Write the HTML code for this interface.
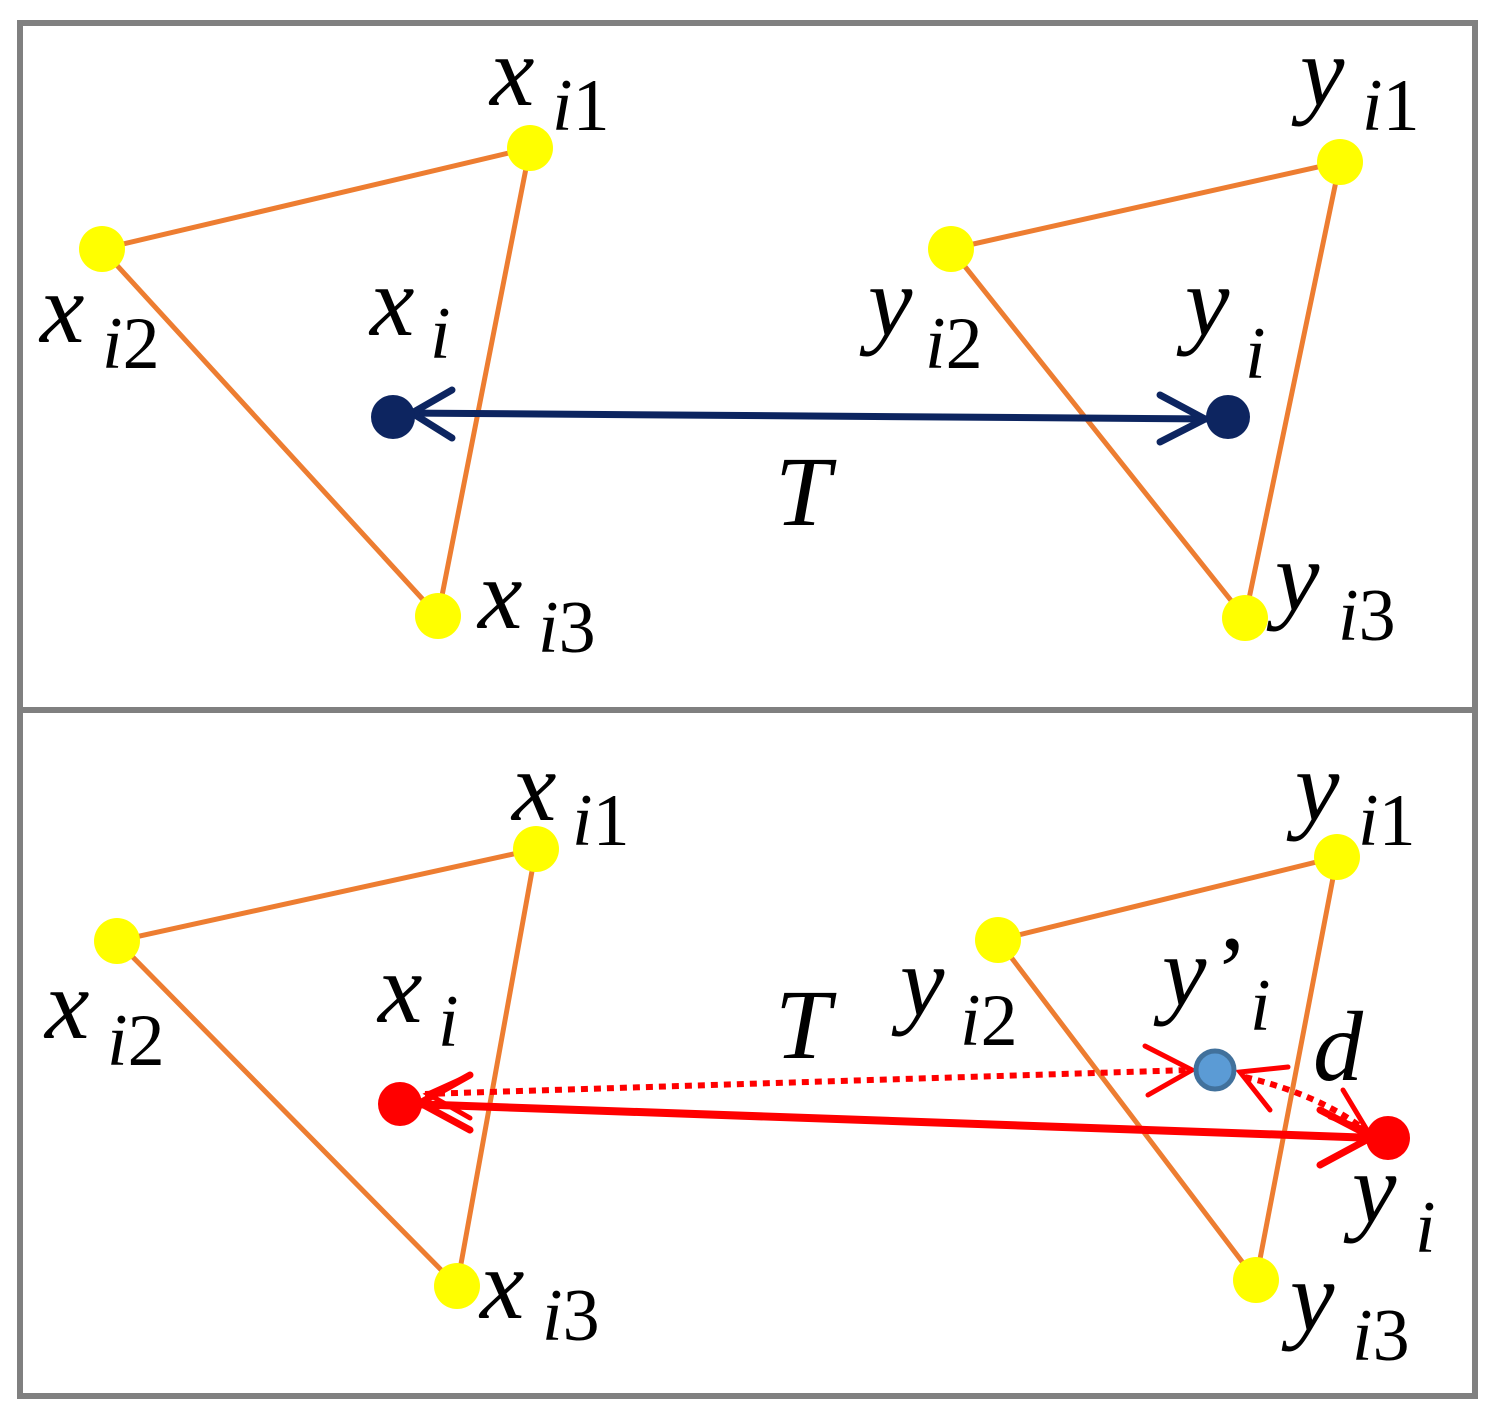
<!DOCTYPE html>
<html><head><style>html,body{margin:0;padding:0;background:#fff}svg{display:block}
text{font-family:"Liberation Serif",serif;font-style:italic;fill:#000}
.b{font-size:100px}.s{font-size:74px}.n{font-style:normal}</style></head><body>
<svg width="1491" height="1416" viewBox="0 0 1491 1416" xmlns="http://www.w3.org/2000/svg">
<rect x="20" y="23" width="1455" height="1373" fill="none" stroke="#808080" stroke-width="6"/>
<line x1="20" y1="710" x2="1475" y2="710" stroke="#808080" stroke-width="6"/>
<g stroke="#ed7d31" stroke-width="5" fill="none">
<polyline points="102,249 530,148 438,616 102,249"/>
<polyline points="951,249 1340,162 1245,618 951,249"/>
<polyline points="117,941 536,849 457,1286 117,941"/>
<polyline points="998,940 1337,857 1256,1280 998,940"/>
</g>
<g fill="#ffff00">
<circle cx="530" cy="148" r="23"/><circle cx="102" cy="249" r="23"/><circle cx="438" cy="616" r="23"/>
<circle cx="1340" cy="162" r="23"/><circle cx="951" cy="249" r="23"/><circle cx="1245" cy="618" r="23"/>
<circle cx="536" cy="849" r="23"/><circle cx="117" cy="941" r="23"/><circle cx="457" cy="1286" r="23"/>
<circle cx="1337" cy="857" r="23"/><circle cx="998" cy="940" r="23"/><circle cx="1256" cy="1280" r="23"/>
</g>
<g stroke="#0d2560" stroke-width="7" fill="none" stroke-linecap="round">
<line x1="400" y1="413" x2="1215" y2="419"/>
<polyline points="452,390 412,413 452,438"/>
<polyline points="1160,395 1205,419 1160,442"/>
</g>
<circle cx="393" cy="417" r="22" fill="#0d2560"/>
<circle cx="1228" cy="417" r="22" fill="#0d2560"/>
<g stroke="#ff0000" fill="none" stroke-linecap="round">
<line x1="410" y1="1104" x2="1375" y2="1138" stroke-width="8"/>
<polyline points="470,1075 420,1103 470,1130" stroke-width="7"/>
<polyline points="1320,1110 1372,1137 1320,1165" stroke-width="7"/>
<line x1="425" y1="1094" x2="1190" y2="1070" stroke-width="6" stroke-dasharray="7,6" stroke-linecap="butt"/>
<polyline points="470,1075 428,1094 470,1118" stroke-width="5"/>
<polyline points="1145,1046 1192,1070 1148,1095" stroke-width="5"/>
<path d="M1245,1077 Q1320,1095 1365,1130" stroke-width="6" stroke-dasharray="7,6" stroke-linecap="butt"/>
<polyline points="1288,1067 1240,1072 1270,1110" stroke-width="5"/>
<polyline points="1343,1090 1367,1130 1330,1117" stroke-width="5"/>
</g>
<circle cx="400" cy="1104" r="22" fill="#ff0000"/>
<circle cx="1388" cy="1138" r="22" fill="#ff0000"/>
<circle cx="1215" cy="1070" r="19" fill="#5b9bd5" stroke="#41719c" stroke-width="5"/>
<!-- top labels -->
<text class="b" x="490" y="105">x</text><text class="s" x="552" y="130">i<tspan class="n">1</tspan></text>
<text class="b" x="40" y="342">x</text><text class="s" x="102" y="368">i<tspan class="n">2</tspan></text>
<text class="b" x="370" y="335">x</text><text class="s" x="430" y="358">i</text>
<text class="b" x="478" y="628">x</text><text class="s" x="538" y="652">i<tspan class="n">3</tspan></text>
<text class="b" x="868" y="335">y</text><text class="s" x="925" y="368">i<tspan class="n">2</tspan></text>
<text class="b" x="1185" y="335">y</text><text class="s" x="1245" y="378">i</text>
<text class="b" x="1300" y="105">y</text><text class="s" x="1362" y="130">i<tspan class="n">1</tspan></text>
<text class="b" x="1275" y="610">y</text><text class="s" x="1338" y="640">i<tspan class="n">3</tspan></text>
<text class="b" x="775" y="525">T</text>
<!-- bottom labels -->
<text class="b" x="512" y="820">x</text><text class="s" x="572" y="845">i<tspan class="n">1</tspan></text>
<text class="b" x="45" y="1038">x</text><text class="s" x="107" y="1065">i<tspan class="n">2</tspan></text>
<text class="b" x="378" y="1022">x</text><text class="s" x="438" y="1046">i</text>
<text class="b" x="480" y="1318">x</text><text class="s" x="542" y="1340">i<tspan class="n">3</tspan></text>
<text class="b" x="775" y="1058">T</text>
<text class="b" x="900" y="1015">y</text><text class="s" x="960" y="1045">i<tspan class="n">2</tspan></text>
<text class="b" x="1162" y="1005">y</text><text class="b n" x="1215" y="1005">’</text><text class="s" x="1250" y="1030">i</text>
<text class="b" x="1313" y="1080">d</text>
<text class="b" x="1352" y="1222">y</text><text class="s" x="1415" y="1252">i</text>
<text class="b" x="1295" y="820">y</text><text class="s" x="1358" y="845">i<tspan class="n">1</tspan></text>
<text class="b" x="1290" y="1330">y</text><text class="s" x="1352" y="1360">i<tspan class="n">3</tspan></text>
</svg>
</body></html>
